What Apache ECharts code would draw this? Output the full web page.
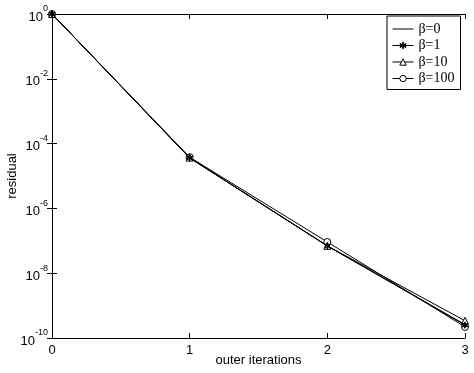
<!DOCTYPE html>
<html><head><meta charset="utf-8">
<script src="https://cdn.jsdelivr.net/npm/echarts@6/dist/echarts.min.js"></script>
<style>html,body{margin:0;padding:0;background:#fff}#c{width:474px;height:373px}</style>
</head><body><div id="c"></div>
<script>
const iterations = [0, 1, 2, 3];
const seriesNames = ['β=0', 'β=1', 'β=10', 'β=100'];
const beta0 = [1, 3.6e-5, 7.0e-8, 2.6e-10];
const beta1 = [1, 3.6e-5, 6.9e-8, 2.5e-10];
const beta10 = [1, 3.7e-5, 7.0e-8, 3.4e-10];
const beta100 = [1, 3.8e-5, 9.2e-8, 2.2e-10];
const xTicks = [0, 1, 2, 3];

const star = 'path://M-0.8,-10 L0.8,-10 L0.8,-2 L7.6,-6 L8.4,-4.6 L1.6,0 L8.4,4.6 L7.6,6 L0.8,2 L0.8,10 L-0.8,10 L-0.8,2 L-7.6,6 L-8.4,4.6 L-1.6,0 L-8.4,-4.6 L-7.6,-6 L-0.8,-2 Z';
const values = [beta0, beta1, beta10, beta100];
const symbols = ['circle', star, 'triangle', 'circle'];
const sizes = [0, 6, 7, 7];

const chart = echarts.init(document.getElementById('c'));
const series = seriesNames.map((n, i) => ({
  name: n, type: 'line',
  data: iterations.map((x, j) => [x, values[i][j]]),
  symbol: symbols[i], symbolSize: sizes[i], showSymbol: i > 0,
  lineStyle: {color: '#000', width: 1},
  itemStyle: {color: i === 1 ? '#000' : '#fff', borderColor: '#000', borderWidth: 1},
  z: 10 - i
}));
const legendData = seriesNames.map((n, i) => i === 0
  ? {name: n, lineStyle: {color: '#000', width: 1}, itemStyle: {color: 'rgba(0,0,0,0)', borderColor: 'rgba(0,0,0,0)'}}
  : {name: n, lineStyle: {color: '#000', width: 1}, itemStyle: {borderWidth: 1}});
chart.setOption({
  animation: false,
  backgroundColor: '#fff',
  grid: {left: 52, right: 9, top: 14, bottom: 35, containLabel: false, outerBoundsMode: 'none'},
  legend: {
    orient: 'vertical', left: 387, top: 16,
    backgroundColor: '#fff', borderColor: '#000', borderWidth: 1,
    padding: [5, 6, 3, 5], itemGap: 0.5, itemWidth: 21, itemHeight: 8,
    textStyle: {fontFamily: 'Liberation Serif', fontSize: 14, color: '#000', lineHeight: 16},
    data: legendData
  },
  xAxis: [{
    type: 'value', min: 0, max: 3, interval: 1,
    name: 'outer iterations', nameLocation: 'middle', nameGap: 16, nameMoveOverlap: false,
    nameTextStyle: {fontFamily: 'Liberation Sans', fontSize: 13, color: '#000', verticalAlign: 'top'},
    axisLine: {lineStyle: {color: '#000', width: 1}},
    axisTick: {inside: true, length: 5, lineStyle: {color: '#000'}},
    axisLabel: {fontFamily: 'Liberation Sans', fontSize: 13, color: '#000', margin: 6,
      formatter: v => xTicks.includes(v) ? String(v) : ''},
    splitLine: {show: false}
  }, {
    type: 'value', min: 0, max: 3, interval: 1, position: 'top',
    axisLine: {lineStyle: {color: '#000', width: 1}},
    axisTick: {inside: true, length: 5, lineStyle: {color: '#000'}},
    axisLabel: {show: false}, splitLine: {show: false}
  }],
  yAxis: [{
    type: 'log', min: 1e-10, max: 1, interval: 2, logBase: 10,
    name: 'residual', nameLocation: 'middle', nameGap: 33, nameMoveOverlap: false,
    nameTextStyle: {fontFamily: 'Liberation Sans', fontSize: 13, color: '#000'},
    axisLine: {show: true, lineStyle: {color: '#000', width: 1}},
    axisTick: {inside: true, length: 5, lineStyle: {color: '#000'}},
    axisLabel: {margin: 4, color: '#000',
      formatter: v => '{b|10}{s|' + Math.round(Math.log10(v)) + '}',
      rich: {b: {fontFamily: 'Liberation Sans', fontSize: 13, color: '#000', padding: [6, 0, 0, 0]},
             s: {fontFamily: 'Liberation Sans', fontSize: 9, color: '#000', verticalAlign: 'top', padding: [0, 0, 6, 0]}}},
    splitLine: {show: false}
  }, {
    type: 'log', min: 1e-10, max: 1, interval: 2, logBase: 10, position: 'right',
    axisLine: {show: true, lineStyle: {color: '#000', width: 1}},
    axisTick: {inside: true, length: 5, lineStyle: {color: '#000'}},
    axisLabel: {show: false}, splitLine: {show: false}
  }],
  series: series
});
</script></body></html>
